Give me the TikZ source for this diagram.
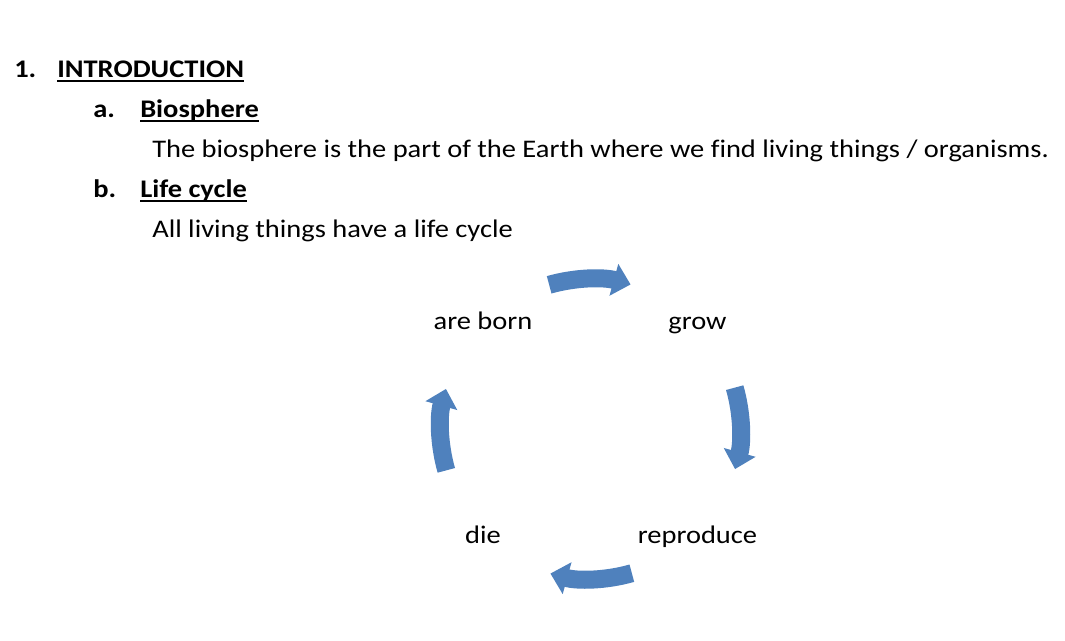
\documentclass[tikz,border=0pt]{standalone}
\usepackage{fontspec}
\setmainfont{Carlito}[FakeStretch=1.124,Ligatures=NoCommon]
\usetikzlibrary{arrows.meta}
\definecolor{cycleblue}{HTML}{4F81BD}
\begin{document}
\begin{tikzpicture}[x=0.75pt,y=-0.75pt,
    font=\fontsize{19}{22}\selectfont,
    txt/.style={anchor=base west,inner sep=0pt},
    lbl/.style={anchor=base,inner sep=0pt},
    uline/.style={line width=1.3pt},
    cyc/.style={cycleblue,line width=13.5pt,-{Triangle[width=24pt,length=13pt]}}]
  \useasboundingbox (0,0) rectangle (1065,640);
  % headings
  \node[txt] (num1) at (14,77) {\textbf{1.}};
  \node[txt] (intro) at (57,77) {\textbf{INTRODUCTION}};
  \node[txt] (numa) at (93,117) {\textbf{a.}};
  \node[txt] (bio) at (140,117) {\textbf{Biosphere}};
  \node[txt] (biotext) at (152,157) {The biosphere is the part of the Earth where we find living things / organisms.};
  \node[txt] (numb) at (93,197) {\textbf{b.}};
  \node[txt] (life) at (140,197) {\textbf{Life cycle}};
  \node[txt] (lifetext) at (152,237) {All living things have a life cycle};
  % underlines
  \draw[uline] ([yshift=-3pt]intro.base west) -- ([yshift=-3pt]intro.base east);
  \draw[uline] ([yshift=-3pt]bio.base west) -- ([yshift=-3pt]bio.base east);
  \draw[uline] ([yshift=-3pt]life.base west) -- ([yshift=-3pt]life.base east);
  % cycle
  \coordinate (c) at (590.5,429);
  \node[lbl] (born) at (483,329) {are born};
  \node[lbl] (grow) at (697.5,329) {grow};
  \node[lbl] (repr) at (697.5,543) {reproduce};
  \node[lbl] (die) at (483,543) {die};
  \draw[cyc] (c) ++(106:112.5pt) arc[start angle=106,end angle=74.5,radius=112.5pt];
  \draw[cyc] (c) ++(16:112.5pt) arc[start angle=16,end angle=-15.5,radius=112.5pt];
  \draw[cyc] (c) ++(-74:112.5pt) arc[start angle=-74,end angle=-105.5,radius=112.5pt];
  \draw[cyc] (c) ++(196:112.5pt) arc[start angle=196,end angle=164.5,radius=112.5pt];
\end{tikzpicture}
\end{document}
